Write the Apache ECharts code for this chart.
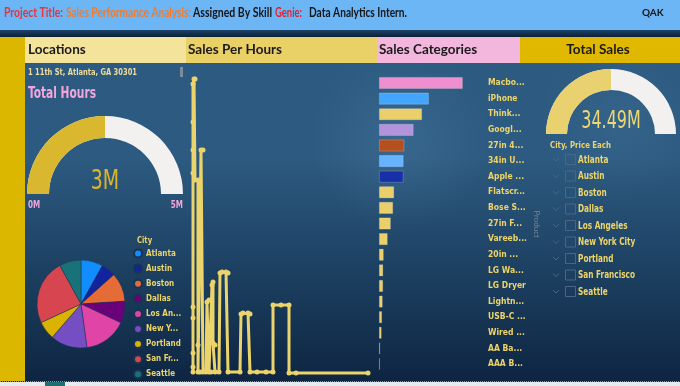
<!DOCTYPE html>
<html><head><meta charset="utf-8">
<script src="https://cdn.jsdelivr.net/npm/echarts@6/dist/echarts.min.js"></script>
<style>html,body{margin:0;padding:0;background:#fff}#c{width:680px;height:386px}</style>
</head><body><div id="c"></div>
<script>
// ---------- DATA ----------
const cityNames = ['Atlanta','Austin','Boston','Dallas','Los Angeles','New York City','Portland','San Francisco','Seattle'];
const cityLegendLabels = ['Atlanta','Austin','Boston','Dallas','Los An...','New Y...','Portland','San Fr...','Seattle'];
const citySales = [2.80,1.82,3.66,2.77,5.45,4.66,2.32,8.26,2.75];
const cityColors = ['#118DFF','#12239E','#E66C37','#6B007B','#E044A7','#744EC2','#D9B300','#D64550','#197278'];

const productLabels = ['Macbo...','iPhone','Think...','Googl...','27in 4...','34in U...','Apple ...','Flatscr...','Bose S...','27in F...','Vareeb...','20in ...','LG Wa...','LG Dryer','Lightn...','USB-C ...','Wired ...','AA Ba...','AAA B...'];
const productSales = [8.04,4.79,4.13,3.32,2.44,2.36,2.35,1.45,1.35,1.13,0.83,0.45,0.40,0.39,0.35,0.29,0.25,0.11,0.09];
const productColors = ['#ef8fcf','#42a6ff','#ebcf6a','#b394dc','#b4501f','#66b3ff','#1631a8','#ebcf6a','#ebcf6a','#ebcf6a','#ebcf6a','#ebcf6a','#ebcf6a','#ebcf6a','#ebcf6a','#ebcf6a','#ebcf6a','#ebcf6a','#ebcf6a'];

const hoursX     = [1,1,1,1,1,1,1,1,1,2,3,3,6,6,6,8,9,11,11,14,15,17,17,19,20,21,21,23,23,27,28,30,34,36,36,48,49,51,56,58,58,65,74,81,81,89,97,97,104,176];
const hoursSales = [2,7,21,56,67,201,224,252,290,295,295,194,194,29,2,2,224,224,2,2,72,74,2,2,89,92,31,29,2,2,101,102,102,101,2,2,60,61,61,60,2,2,2,2,69,69,69,1,1,1];

const totalHours = 2.5, totalHoursMax = 5;
const totalSales = 34.49, totalSalesMax = 68.98;
const slicerCities = ['Atlanta','Austin','Boston','Dallas','Los Angeles','New York City','Portland','San Francisco','Seattle'];

// ---------- CHART ----------
const YEL = '#ecd46a';
const DIN = "'DejaVu Sans Condensed',Roboto,sans-serif";
const SX = 0.8;
const mctx = document.createElement('canvas').getContext('2d');
function fit(text, weight, size, family, target){
  mctx.font = weight + ' ' + size + 'px ' + family;
  return target / mctx.measureText(text).width;
}
const chart = echarts.init(document.getElementById('c'), null, {renderer:'canvas'});

const g = [];
g.push({type:'rect', z:-10, shape:{x:0,y:0,width:680,height:386}, style:{fill:'#0c2038'}});
g.push({type:'rect', z:-9, shape:{x:0,y:0,width:680,height:31}, style:{fill:'#6cb6f6'}});
g.push({type:'rect', z:-9, shape:{x:0,y:30,width:680,height:7}, style:{fill:new echarts.graphic.LinearGradient(0,0,0,1,[{offset:0,color:'#1d4468'},{offset:1,color:'#0a1f38'}])}});
g.push({type:'rect', z:-9, shape:{x:25,y:63,width:655,height:318}, style:{fill:new echarts.graphic.LinearGradient(0,0,0,1,[
  {offset:0,color:'#2c5a80'},{offset:0.3,color:'#2d5a80'},{offset:0.6,color:'#1f4466'},{offset:0.85,color:'#14314f'},{offset:1,color:'#0e2542'}])}});
g.push({type:'ellipse', z:-8, shape:{cx:400,cy:140,rx:220,ry:90}, style:{fill:new echarts.graphic.RadialGradient(0.5,0.5,0.5,[{offset:0,color:'rgba(90,140,180,0.25)'},{offset:1,color:'rgba(90,140,180,0)'}])}});
g.push({type:'ellipse', z:-8, shape:{cx:620,cy:120,rx:100,ry:80}, style:{fill:new echarts.graphic.RadialGradient(0.5,0.5,0.5,[{offset:0,color:'rgba(90,140,180,0.18)'},{offset:1,color:'rgba(90,140,180,0)'}])}});
g.push({type:'rect', z:-7, shape:{x:0,y:37,width:25,height:344}, style:{fill:'#dbb700'}});
// panel headers
g.push({type:'rect', z:-7, shape:{x:25,y:37,width:161,height:26}, style:{fill:'#f3e39b'}});
g.push({type:'rect', z:-7, shape:{x:186,y:37,width:191,height:26}, style:{fill:'#e9d067'}});
g.push({type:'rect', z:-7, shape:{x:377,y:37,width:143,height:26}, style:{fill:'#f3b6dd'}});
g.push({type:'rect', z:-7, shape:{x:520,y:37,width:160,height:26}, style:{fill:'#e0b800'}});
const hdrFont = {fontFamily:'Lato, sans-serif', fontSize:13.5, fontWeight:'bold', fill:'#1a1a1a', verticalAlign:'middle'};
g.push({type:'text', x:28, y:50, style:Object.assign({text:'Locations'},hdrFont)});
g.push({type:'text', x:188, y:50, style:Object.assign({text:'Sales Per Hours'},hdrFont)});
g.push({type:'text', x:379, y:50, style:Object.assign({text:'Sales Categories'},hdrFont)});
g.push({type:'text', x:598, y:50, style:Object.assign({text:'Total Sales',align:'center'},hdrFont)});
// title (each segment fitted to its width in the reference)
const titleParts = [
  ['Project Title:', '#e8333c', 4, 59],
  ['Sales Performance Analysis:', '#f47a2a', 66, 125],
  ['Assigned By Skill', '#141414', 193, 79],
  ['Genie:', '#e5202a', 275, 27],
  ['Data Analytics Intern.', '#141414', 309, 98]
];
titleParts.forEach(p=>{
  g.push({type:'text', x:p[2], y:13, scaleX:fit(p[0],'bold',13,'Lato',p[3]),
    style:{text:p[0], fill:p[1], fontFamily:'Lato, sans-serif', fontSize:13, fontWeight:'bold', verticalAlign:'middle'}});
});
g.push({type:'text', x:642, y:13, style:{text:'QAK', fill:'#141414', fontFamily:'Lato, sans-serif', fontSize:10, fontWeight:'bold', verticalAlign:'middle'}});
// left panel texts
const addr = '1 11th St, Atlanta, GA 30301';
g.push({type:'text', x:28, y:73, scaleX:fit(addr,'bold',9.5,DIN,109), style:{text:addr, fill:'#f0dc9a', fontFamily:DIN, fontSize:9.5, fontWeight:'bold', verticalAlign:'middle'}});
g.push({type:'rect', shape:{x:180,y:67,width:3,height:10}, style:{fill:'#7d8b9a'}});
g.push({type:'text', x:28, y:94, scaleX:fit('Total Hours','bold',15,DIN,68), style:{text:'Total Hours', fill:'#f4a6dc', fontFamily:DIN, fontSize:15, fontWeight:'bold', verticalAlign:'middle'}});
g.push({type:'text', x:28, y:205, scaleX:SX, style:{text:'0M', fill:'#f4a6dc', fontFamily:DIN, fontSize:10, fontWeight:'bold', verticalAlign:'middle'}});
g.push({type:'text', x:183, y:205, scaleX:SX, style:{text:'5M', fill:'#f4a6dc', fontFamily:DIN, fontSize:10, fontWeight:'bold', verticalAlign:'middle', align:'right'}});
g.push({type:'text', x:137, y:241, scaleX:SX, style:{text:'City', fill:YEL, fontFamily:DIN, fontSize:9.5, fontWeight:'bold', verticalAlign:'middle'}});
// gauge value texts (from data)
g.push({type:'text', x:105, y:182, scaleX:0.78, z:10, style:{text:Math.round(totalHours)+'M', fill:'#dcb52a', fontFamily:DIN, fontSize:27, align:'center', verticalAlign:'middle'}});
g.push({type:'text', x:611, y:122, scaleX:0.74, z:10, style:{text:totalSales.toFixed(2)+'M', fill:'#f0d870', fontFamily:DIN, fontSize:24, align:'center', verticalAlign:'middle'}});
// Product axis title
g.push({type:'text', x:537, y:224, rotation:-Math.PI/2, style:{text:'Product', fill:'#6f8298', fontFamily:'Lato, sans-serif', fontSize:8, align:'center', verticalAlign:'middle'}});
// slicer
g.push({type:'text', x:550, y:146, scaleX:fit('City, Price Each','bold',9.5,DIN,61), style:{text:'City, Price Each', fill:YEL, fontFamily:DIN, fontSize:9.5, fontWeight:'bold', verticalAlign:'middle'}});
const slSX = fit('San Francisco','bold',11,DIN,57);
slicerCities.forEach((c,i)=>{
  const y = 160 + i*16.5;
  g.push({type:'polyline', shape:{points:[[553,y-2],[556,y+1],[559,y-2]]}, style:{stroke:'#4a6684', lineWidth:1, fill:null}});
  g.push({type:'rect', shape:{x:565.5,y:y-5.5,width:10,height:10}, style:{fill:null, stroke:'#4a6684', lineWidth:1}});
  g.push({type:'text', x:578, y:y, scaleX:slSX, style:{text:c, fill:YEL, fontFamily:DIN, fontSize:11, fontWeight:'bold', verticalAlign:'middle'}});
});
// bottom
g.push({type:'rect', shape:{x:0,y:382,width:680,height:4}, style:{fill:'#e8ebee'}});
g.push({type:'rect', shape:{x:45,y:382,width:20,height:4}, style:{fill:'#1f6e70'}});
g.push({type:'line', shape:{x1:0,y1:381.5,x2:680,y2:381.5}, style:{stroke:'#8b9bb0', lineWidth:1, lineDash:[1,1]}});

function gauge(center, radius, width, val, max, fill){
  return {type:'gauge', center:center, radius:radius, startAngle:180, endAngle:0, min:0, max:max,
    progress:{show:true, width:width, itemStyle:{color:fill}},
    axisLine:{lineStyle:{width:width, color:[[1,'#f2f1ef']]}},
    pointer:{show:false}, axisTick:{show:false}, splitLine:{show:false}, axisLabel:{show:false},
    anchor:{show:false}, title:{show:false}, detail:{show:false},
    data:[{value:val}]};
}

chart.setOption({
  animation:false,
  graphic:{elements:g},
  grid:[
    {left:192, top:74, width:178, height:300},
    {left:379, top:75.2, width:100, height:296.6}
  ],
  xAxis:[
    {gridIndex:0, type:'value', min:0, max:178, show:false},
    {gridIndex:1, type:'value', min:0, max:9.6, show:false}
  ],
  yAxis:[
    {gridIndex:0, type:'value', min:0, max:300, show:false},
    {gridIndex:1, type:'category', data:productLabels, inverse:true, position:'right',
      axisLine:{show:false}, axisTick:{show:false}, splitLine:{show:false},
      axisLabel:{margin:9, color:YEL, fontWeight:'bold', fontSize:8.5, fontFamily:DIN}}
  ],
  legend:{orient:'vertical', left:133, top:248.5, icon:'circle', itemWidth:8, itemHeight:8, itemGap:5.1, padding:0,
    data:cityNames, formatter:n=>cityLegendLabels[cityNames.indexOf(n)],
    textStyle:{color:YEL, fontSize:8, fontWeight:'bold', fontFamily:DIN, padding:[0,0,0,-1]}},
  series:[
    gauge([105,194], 78, 22, totalHours, totalHoursMax, '#d9b830'),
    gauge([611,134], 65, 21, totalSales, totalSalesMax, '#ead170'),
    {type:'pie', center:[81,304], radius:44, label:{show:false}, labelLine:{show:false},
      itemStyle:{borderColor:'#1a3350', borderWidth:0.5},
      data:cityNames.map((n,i)=>({name:n, value:citySales[i], itemStyle:{color:cityColors[i]}}))},
    {type:'line', xAxisIndex:0, yAxisIndex:0, data:hoursX.map((x,i)=>[x,hoursSales[i]]),
      lineStyle:{color:'#ecd46c', width:3}, itemStyle:{color:'#ecd46c'}, symbol:'circle', symbolSize:5},
    {type:'bar', xAxisIndex:1, yAxisIndex:1, barWidth:12,
      data:productSales.map((v,i)=>({value:v, itemStyle:{color:productColors[i], borderColor:'rgba(255,255,255,0.25)', borderWidth:0.8}}))}
  ]
});
</script>
</body></html>
